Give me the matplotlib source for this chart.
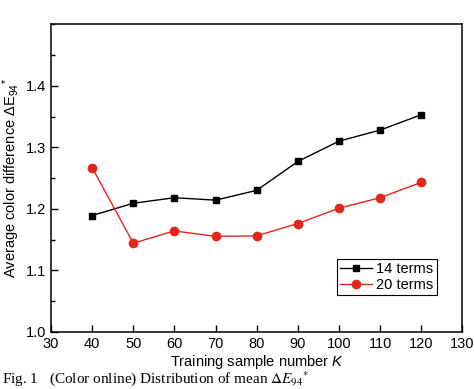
import numpy as np
import matplotlib.pyplot as plt
from matplotlib.ticker import MultipleLocator

plt.rcParams['font.family'] = 'Liberation Sans'
plt.rcParams['mathtext.fontset'] = 'custom'
plt.rcParams['mathtext.rm'] = 'Liberation Sans'
plt.rcParams['mathtext.it'] = 'Liberation Sans:italic'

# training sample number K
K = [40, 50, 60, 70, 80, 90, 100, 110, 120]
terms14 = [1.189, 1.209, 1.218, 1.214, 1.230, 1.277, 1.310, 1.328, 1.353]
terms20 = [1.267, 1.144, 1.164, 1.155, 1.156, 1.176, 1.201, 1.218, 1.243]

fig = plt.figure(figsize=(4.74, 3.89), dpi=100)
ax = fig.add_axes([0.1076, 0.1473, 0.868, 0.79])

ax.plot(K, terms14, color='black', lw=1, marker='s', ms=5, label='14 terms')
ax.plot(K, terms20, color='#e3261c', lw=1, marker='o', ms=6, label='20 terms')

ax.set_xlim(30, 130)
ax.set_ylim(1.0, 1.5)
ax.xaxis.set_major_locator(MultipleLocator(10))
ax.yaxis.set_major_locator(MultipleLocator(0.1))
ax.yaxis.set_minor_locator(MultipleLocator(0.05))
ax.set_yticks([1.0, 1.1, 1.2, 1.3, 1.4])
ax.tick_params(direction='in', which='major', length=5, width=1, labelsize=10.5)
ax.tick_params(direction='in', which='minor', length=3, width=1)
for s in ax.spines.values():
    s.set_linewidth(1.1)

ax.set_xlabel(r'Training sample number $K$', fontsize=10.5, labelpad=2)
ax.set_ylabel(r'Average color difference $\Delta\mathrm{E}_{94}{}^{*}$', fontsize=10.5, labelpad=3)

leg = ax.legend(loc='lower right', bbox_to_anchor=(0.955, 0.095), fancybox=False,
                edgecolor='black', framealpha=1, fontsize=10.5, handlelength=2.2,
                borderpad=0.2, labelspacing=0.15, handletextpad=0.3)
leg.get_frame().set_linewidth(0.8)

fig.text(0.005, 0.002, r'Fig. 1   (Color online) Distribution of mean $\Delta E_{94}{}^{*}$',
         family='Liberation Serif', math_fontfamily='stix', fontsize=11, va='bottom')

fig.savefig('out.png', dpi=100)
